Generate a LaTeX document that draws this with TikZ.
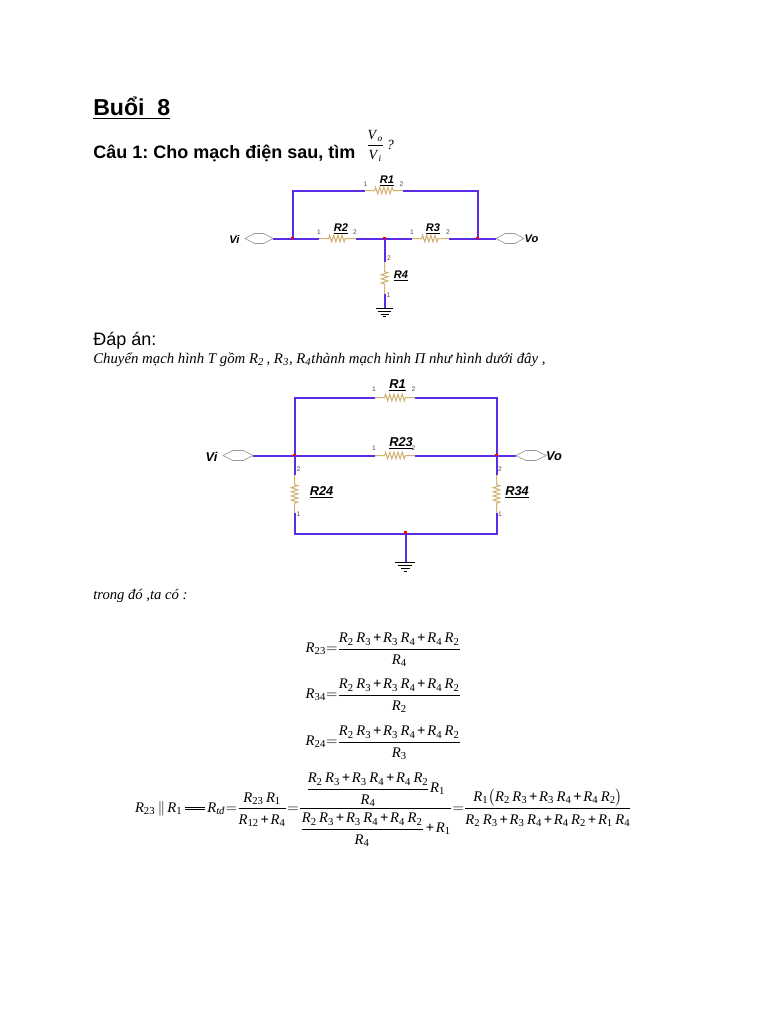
\documentclass[tikz,border=0pt]{standalone}
\usepackage{amsmath}
\usepackage{fontspec}
\usepackage{tikz}
\usetikzlibrary{decorations.pathmorphing}
\setmainfont{Liberation Serif}
\newfontfamily\arialfont{Liberation Sans}
\definecolor{wire}{HTML}{5A2CE8}
\definecolor{lead}{HTML}{D2B06E}
\tikzstyle{wireline}=[draw=wire,line width=1.5pt]
\tikzstyle{res}=[draw=lead,line width=0.75pt,decoration={zigzag,segment length=3.1,
                 amplitude=2.5,pre length=7.2,post length=7.2},decorate]
\tikzstyle{reddot}=[rectangle,fill=red,inner sep=0pt,minimum size=2.2pt]
\tikzstyle{port}=[draw=black!40,line width=0.5pt,fill=white]
\tikzstyle{pinlabel}=[inner sep=0pt,text=black!70,font=\arialfont\fontsize{5}{6}\selectfont]
\tikzstyle{smalllabel}=[inner sep=0pt,font=\arialfont\bfseries\itshape\fontsize{8.3}{10}\selectfont]
\tikzstyle{biglabel}=[inner sep=0pt,font=\arialfont\bfseries\itshape\fontsize{9.6}{12}\selectfont]
\tikzstyle{eqn}=[inner sep=0pt,font=\fontsize{11}{13}\selectfont]
\tikzstyle{line}=[inner sep=0pt,anchor=base west]
\newcommand{\rn}[1]{\mbox{\textit{R}}_{\mbox{\fontsize{8}{9}\selectfont #1}}}
\newcommand{\pl}{\mbox{\hspace{1.3pt}\textbf{+}\hspace{1.3pt}}}
\newcommand{\rsum}{\rn{2}\,\rn{3}\pl\rn{3}\,\rn{4}\pl\rn{4}\,\rn{2}}
\newcommand{\denstrut}{\rule{0pt}{10pt}}
\newcommand{\lowstrut}{\rule{0pt}{16.5pt}}
\newcommand{\dblbar}{\mbox{\rlap{\rule[1.9pt]{15pt}{0.7pt}}\rule[3.5pt]{15pt}{0.7pt}}}
\newcommand{\portshape}[2]{\draw[port] (#1) -- ++(#2*0.33,-5) -- ++(#2*0.34,0) -- ++(#2*0.33,5)
    -- ++(-#2*0.33,5) -- ++(-#2*0.34,0) -- cycle;}
\begin{document}
\frenchspacing
\begin{tikzpicture}[x=0.75pt,y=-0.75pt]
    \useasboundingbox (0,0) rectangle (768,1024);
    % texts of the page
    \node[line,font=\arialfont\bfseries\fontsize{17.3}{20}\selectfont] (title) at (93,115) {\underline{Buổi\ \ 8}};
    \node[line,font=\arialfont\bfseries\fontsize{13.5}{16}\selectfont] (question) at (93,158) {Câu 1: Cho mạch điện sau, tìm};
    \node[inner sep=0pt,font=\fontsize{10.5}{12}\selectfont] (ratio) at (380,146) {$\dfrac{\mbox{\textit{V}}_{\mbox{\fontsize{7}{8}\selectfont\textit{o}}}}{\mbox{\textit{V}}_{\mbox{\fontsize{7}{8}\selectfont\textit{i}}}}\,\mbox{\textit{?}}$};
    \node[line,font=\arialfont\fontsize{13.5}{16}\selectfont] (answer) at (93,345) {Đáp án:};
    \node[line,font=\itshape\fontsize{11.1}{13}\selectfont] (intro) at (93,363) {Chuyển mạch hình T gồm $\rn{2}$\,, $\rn{3}$, $\rn{4}$thành mạch hình Π như hình dưới đây ,};
    \node[line,font=\itshape\fontsize{11}{13}\selectfont] (where) at (93,599) {trong đó ,ta có :};
    % first circuit
    \coordinate (atl) at (292.5,190.5);
    \coordinate (atr) at (477.5,190.5);
    \coordinate (a1l) at (365,190.5);
    \coordinate (a1r) at (403,190.5);
    \coordinate (a2l) at (319,238.5);
    \coordinate (a2r) at (356,238.5);
    \coordinate (a3l) at (412,238.5);
    \coordinate (a3r) at (449,238.5);
    \coordinate (a4t) at (384.5,262);
    \coordinate (a4b) at (384.5,294);
    \coordinate (agnd) at (384.5,308.5);
    \coordinate (avi) at (245,238.5);
    \coordinate (avie) at (273,238.5);
    \coordinate (avo) at (496,238.5);
    \coordinate (avoe) at (524,238.5);
    \node[reddot] (aj1) at (292.5,238) {};
    \node[reddot] (aj2) at (384.5,238) {};
    \node[reddot] (aj3) at (477.5,238) {};
    \draw[wireline] (aj1.center) -- (atl) -- (a1l) (a1r) -- (atr) -- (aj3.center);
    \draw[wireline] (avie) -- (a2l) (a2r) -- (a3l) (a3r) -- (avo);
    \draw[wireline] (aj2.center) -- (a4t) (a4b) -- (agnd);
    \draw[res] (a1l) -- (a1r);
    \draw[res] (a2l) -- (a2r);
    \draw[res] (a3l) -- (a3r);
    \draw[res] (a4t) -- (a4b);
    \portshape{avi}{28}
    \portshape{avo}{28}
    \node[reddot] at (aj1) {};
    \node[reddot] at (aj2) {};
    \node[reddot] at (aj3) {};
    \draw[line width=0.6pt] (376,308.5) -- (393,308.5) (378,311.5) -- (391,311.5)
        (380.5,314.2) -- (388.5,314.2) (383,316.7) -- (386,316.7);
    \node[smalllabel] (vi1) at (234.5,239) {Vi};
    \node[smalllabel] (vo1) at (531.5,239) {Vo};
    \node[smalllabel] (lr1) at (387,181) {\underline{R1}};
    \node[smalllabel] (lr2) at (341,228.5) {\underline{R2}};
    \node[smalllabel] (lr3) at (433,228.5) {\underline{R3}};
    \node[smalllabel] (lr4) at (401,276) {\underline{R4}};
    \foreach \px/\py/\pn in {365.5/184/1,401.5/184/2,319/232.5/1,355/232.5/2,412/232.5/1,448/232.5/2,389/258/2,388.5/295.5/1}
      \node[pinlabel] at (\px,\py) {\pn};
    % second circuit
    \coordinate (btl) at (294.5,397.5);
    \coordinate (btr) at (496.5,397.5);
    \coordinate (b1l) at (375,397.5);
    \coordinate (b1r) at (415,397.5);
    \coordinate (b23l) at (375,455.5);
    \coordinate (b23r) at (415,455.5);
    \coordinate (b24t) at (294.5,475);
    \coordinate (b24b) at (294.5,513);
    \coordinate (b34t) at (496.5,475);
    \coordinate (b34b) at (496.5,513);
    \coordinate (bbl) at (294.5,533.5);
    \coordinate (bbr) at (496.5,533.5);
    \coordinate (bgnd) at (405.5,562);
    \coordinate (bvi) at (223,455.5);
    \coordinate (bvie) at (253,455.5);
    \coordinate (bvo) at (516,455.5);
    \coordinate (bvoe) at (546,455.5);
    \node[reddot] (bj1) at (294.5,455) {};
    \node[reddot] (bj2) at (496.5,455) {};
    \node[reddot] (bj3) at (405.5,532.5) {};
    \draw[wireline] (b24t) -- (btl) -- (b1l) (b1r) -- (btr) -- (b34t);
    \draw[wireline] (bvie) -- (b23l) (b23r) -- (bvo);
    \draw[wireline] (b24b) -- (bbl) -- (bbr) -- (b34b);
    \draw[wireline] (bj3.center) -- (bgnd);
    \draw[res] (b1l) -- (b1r);
    \draw[res] (b23l) -- (b23r);
    \draw[res] (b24t) -- (b24b);
    \draw[res] (b34t) -- (b34b);
    \portshape{bvi}{30}
    \portshape{bvo}{30}
    \node[reddot] at (bj1) {};
    \node[reddot] at (bj2) {};
    \node[reddot] at (bj3) {};
    \draw[line width=0.6pt] (394.5,562) -- (415,562) (397.5,565.5) -- (412,565.5)
        (400.5,568.7) -- (409.5,568.7) (403.5,571.5) -- (406.5,571.5);
    \node[biglabel] (vi2) at (211.5,456.5) {Vi};
    \node[biglabel] (vo2) at (554,456.5) {Vo};
    \node[biglabel] (lb1) at (397.5,385) {\underline{R1}};
    \node[biglabel] (lb23) at (401,443) {\underline{R23}};
    \node[biglabel] (lb24) at (321.5,492) {\underline{R24}};
    \node[biglabel] (lb34) at (517,492) {\underline{R34}};
    \foreach \px/\py/\pn in {374/389/1,413.5/389/2,374/448.5/1,413.5/448.5/2,298.5/469.5/2,298.5/514.5/1,500/469.5/2,500/514.5/1}
      \node[pinlabel] at (\px,\py) {\pn};
    % formulas
    \node[eqn] (eq1) at (383.5,650) {$\rn{23}{=}\dfrac{\rsum}{\denstrut\rn{4}}$};
    \node[eqn] (eq2) at (383.5,696) {$\rn{34}{=}\dfrac{\rsum}{\denstrut\rn{2}}$};
    \node[eqn] (eq3) at (383.5,743) {$\rn{24}{=}\dfrac{\rsum}{\denstrut\rn{3}}$};
    \node[eqn] (eq4) at (383.5,810) {$\rn{23}\,\|\,\rn{1}\,\dblbar\,\mbox{\textit{R}}_{\mbox{\fontsize{8}{9}\selectfont\textit{tđ}}}{=}\dfrac{\rn{23}\,\rn{1}}{\denstrut\rn{12}\pl\rn{4}}{=}\dfrac{\dfrac{\rsum}{\denstrut\rn{4}}\rn{1}}{\lowstrut\dfrac{\rsum}{\denstrut\rn{4}}\pl\rn{1}}{=}\dfrac{\rn{1}\bigl(\rsum\bigr)}{\denstrut\rsum\pl\rn{1}\,\rn{4}}$};
\end{tikzpicture}
\end{document}
